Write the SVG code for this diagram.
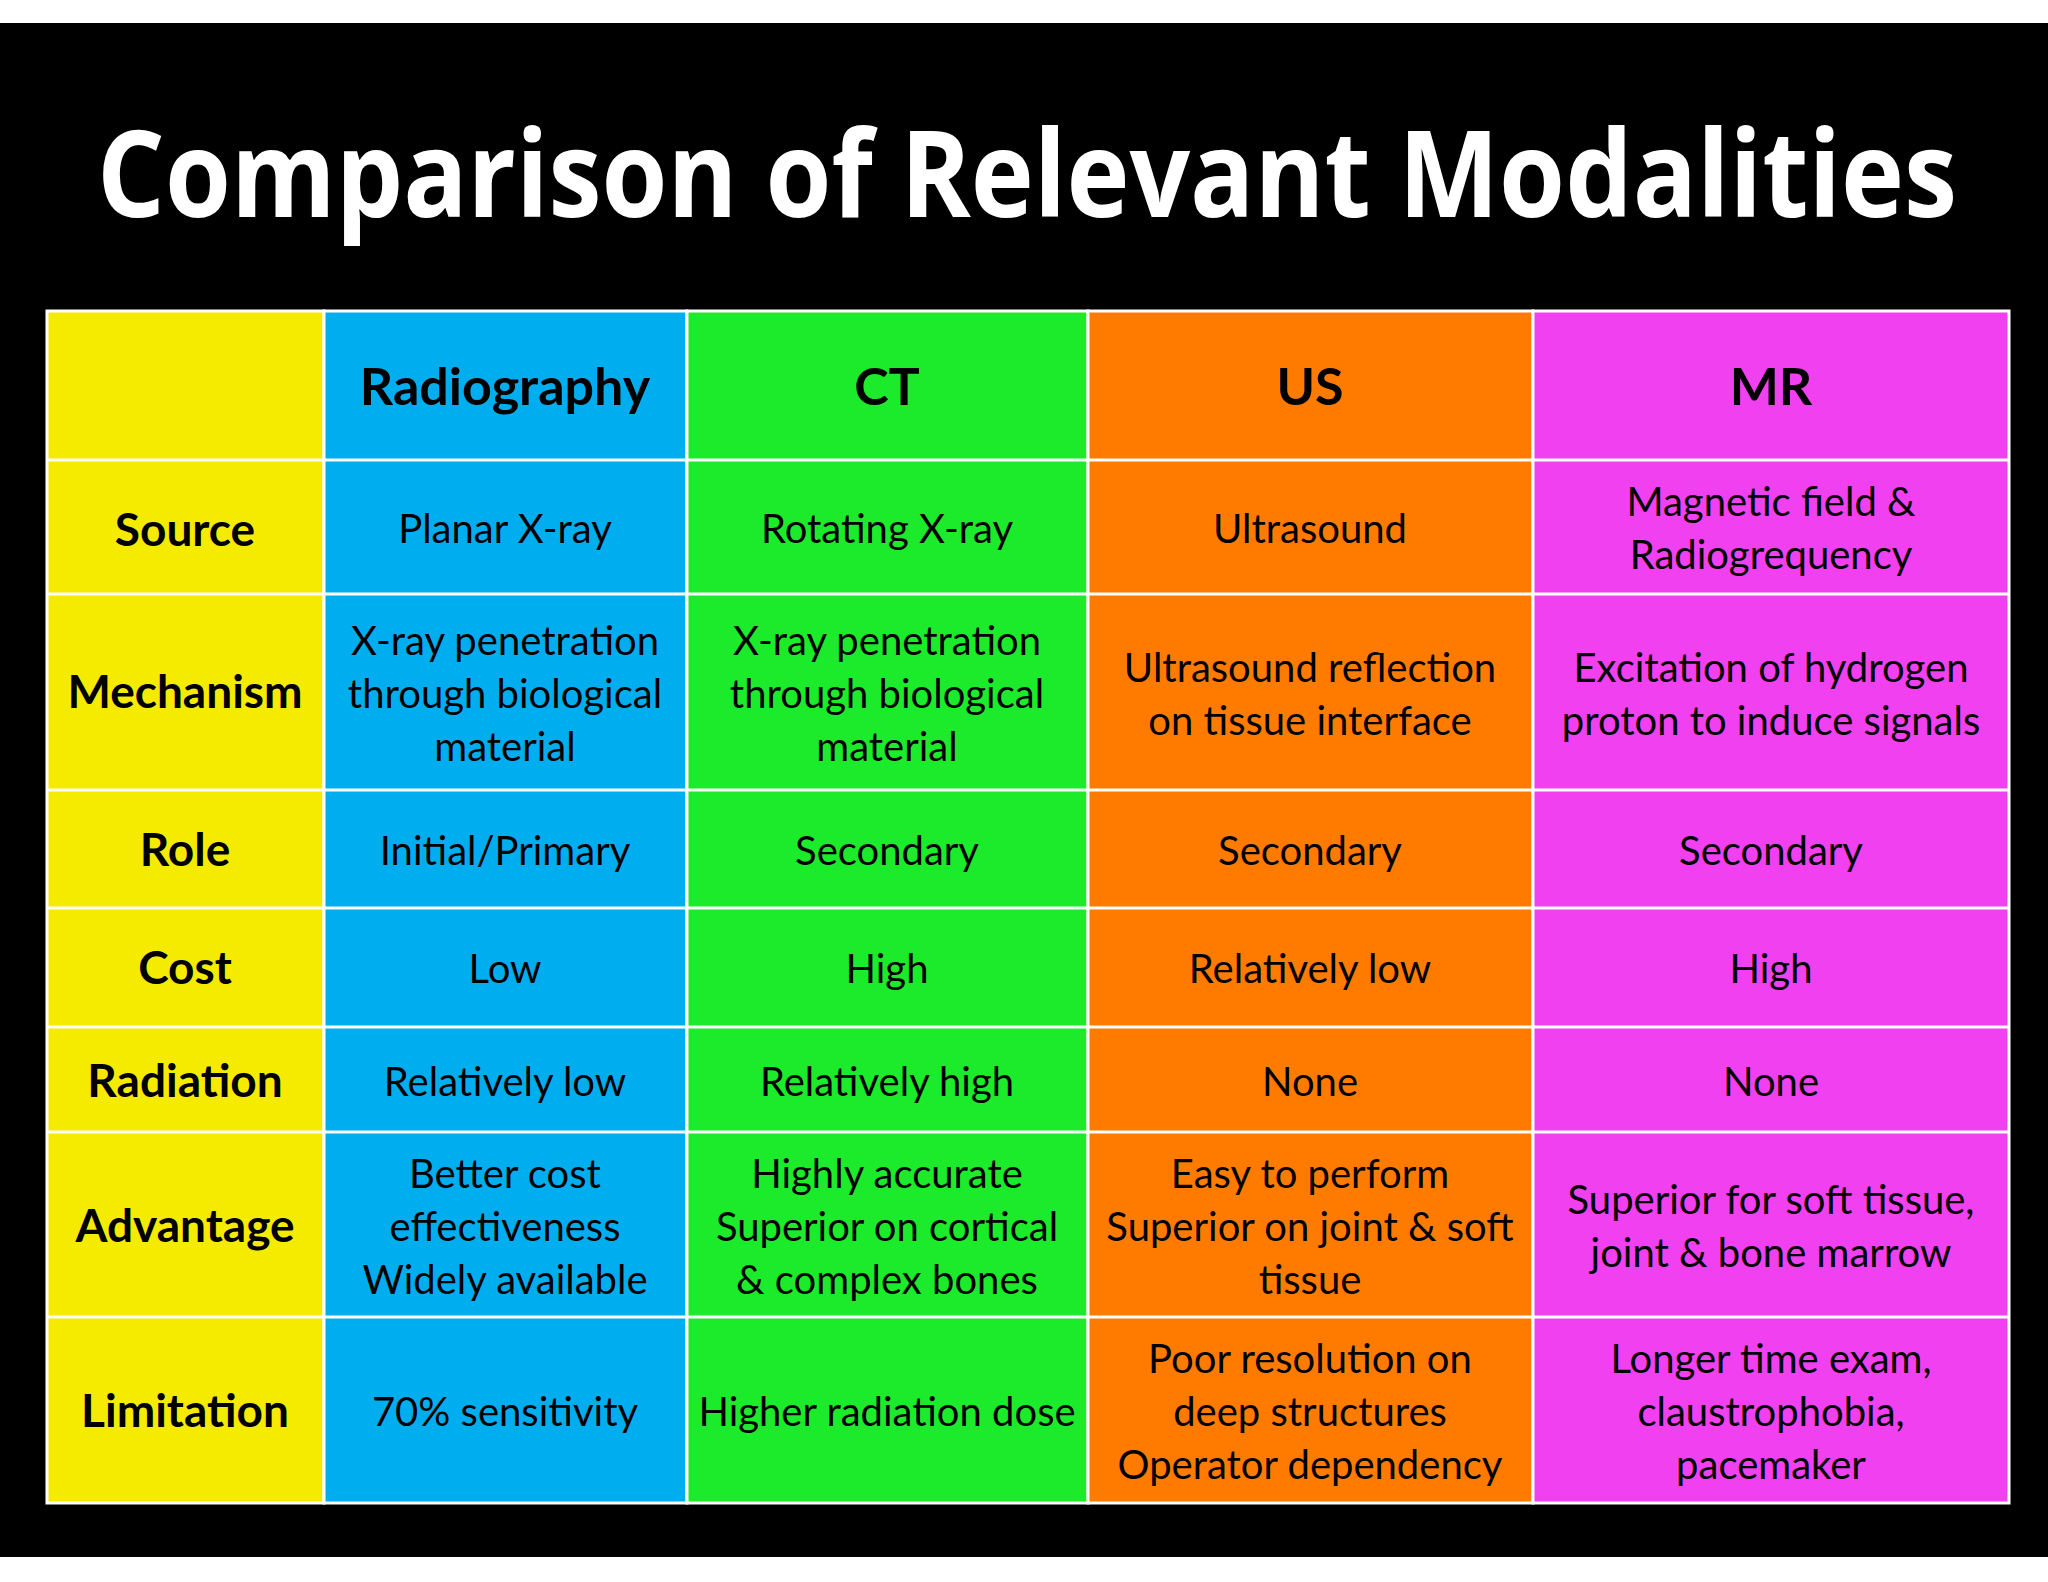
<svg xmlns="http://www.w3.org/2000/svg" width="2048" height="1582" viewBox="0 0 2048 1582">
<style>
.y{fill:#F5EB00}.b{fill:#00AEEF}.g{fill:#1BEB2A}.o{fill:#FF7B00}.m{fill:#F040F0}
rect.c{stroke:#fff;stroke-width:3}
text{font-family:Lato,"Liberation Sans",sans-serif;text-anchor:middle;fill:#000}
.t{font-size:40px}
.h{font-size:52px;font-weight:bold}
.l{font-size:46px;font-weight:bold}
</style>
<rect width="2048" height="1582" fill="#fff"/>
<rect x="0" y="23" width="2048" height="1534" fill="#000"/>
<text x="1027" y="217" style="font-family:'Open Sans',sans-serif;font-weight:bold;font-size:120px;fill:#fff" textLength="1860" lengthAdjust="spacingAndGlyphs">Comparison of Relevant Modalities</text>
<g id="grid">
<rect class="c y" x="47" y="311" width="277" height="1192"/>
<rect class="c b" x="324" y="311" width="363" height="1192"/>
<rect class="c g" x="687" y="311" width="401" height="1192"/>
<rect class="c o" x="1088" y="311" width="445" height="1192"/>
<rect class="c m" x="1533" y="311" width="476" height="1192"/>
<path d="M47 460H2009M47 594H2009M47 790H2009M47 908H2009M47 1027H2009M47 1132H2009M47 1317H2009" stroke="#fff" stroke-width="3"/>
</g>
<g id="header">
<text class="h" x="505" y="405">Radiography</text>
<text class="h" x="887" y="405">CT</text>
<text class="h" x="1310" y="405">US</text>
<text class="h" x="1771" y="405">MR</text>
</g>
<g id="labels">
<text class="l" x="185" y="546">Source</text>
<text class="l" x="185" y="708">Mechanism</text>
<text class="l" x="185" y="866">Role</text>
<text class="l" x="185" y="984">Cost</text>
<text class="l" x="185" y="1097">Radiation</text>
<text class="l" x="185" y="1242">Advantage</text>
<text class="l" x="185" y="1427">Limitation</text>
</g>
<g id="cells">
<text class="t" x="505" y="543">Planar X-ray</text>
<text class="t" x="887" y="543">Rotating X-ray</text>
<text class="t" x="1310" y="543">Ultrasound</text>
<text class="t" x="1771" y="516">Magnetic field &amp;</text>
<text class="t" x="1771" y="569">Radiogrequency</text>
<text class="t" x="505" y="655">X-ray penetration</text>
<text class="t" x="505" y="708">through biological</text>
<text class="t" x="505" y="761">material</text>
<text class="t" x="887" y="655">X-ray penetration</text>
<text class="t" x="887" y="708">through biological</text>
<text class="t" x="887" y="761">material</text>
<text class="t" x="1310" y="682">Ultrasound reflection</text>
<text class="t" x="1310" y="735">on tissue interface</text>
<text class="t" x="1771" y="682">Excitation of hydrogen</text>
<text class="t" x="1771" y="735">proton to induce signals</text>
<text class="t" x="505" y="865">Initial/Primary</text>
<text class="t" x="887" y="865">Secondary</text>
<text class="t" x="1310" y="865">Secondary</text>
<text class="t" x="1771" y="865">Secondary</text>
<text class="t" x="505" y="983">Low</text>
<text class="t" x="887" y="983">High</text>
<text class="t" x="1310" y="983">Relatively low</text>
<text class="t" x="1771" y="983">High</text>
<text class="t" x="505" y="1096">Relatively low</text>
<text class="t" x="887" y="1096">Relatively high</text>
<text class="t" x="1310" y="1096">None</text>
<text class="t" x="1771" y="1096">None</text>
<text class="t" x="505" y="1188">Better cost</text>
<text class="t" x="505" y="1241">effectiveness</text>
<text class="t" x="505" y="1294">Widely available</text>
<text class="t" x="887" y="1188">Highly accurate</text>
<text class="t" x="887" y="1241">Superior on cortical</text>
<text class="t" x="887" y="1294">&amp; complex bones</text>
<text class="t" x="1310" y="1188">Easy to perform</text>
<text class="t" x="1310" y="1241">Superior on joint &amp; soft</text>
<text class="t" x="1310" y="1294">tissue</text>
<text class="t" x="1771" y="1214">Superior for soft tissue,</text>
<text class="t" x="1771" y="1267">joint &amp; bone marrow</text>
<text class="t" x="505" y="1426">70% sensitivity</text>
<text class="t" x="887" y="1426">Higher radiation dose</text>
<text class="t" x="1310" y="1373">Poor resolution on</text>
<text class="t" x="1310" y="1426">deep structures</text>
<text class="t" x="1310" y="1479">Operator dependency</text>
<text class="t" x="1771" y="1373">Longer time exam,</text>
<text class="t" x="1771" y="1426">claustrophobia,</text>
<text class="t" x="1771" y="1479">pacemaker</text>
</g>
</svg>
